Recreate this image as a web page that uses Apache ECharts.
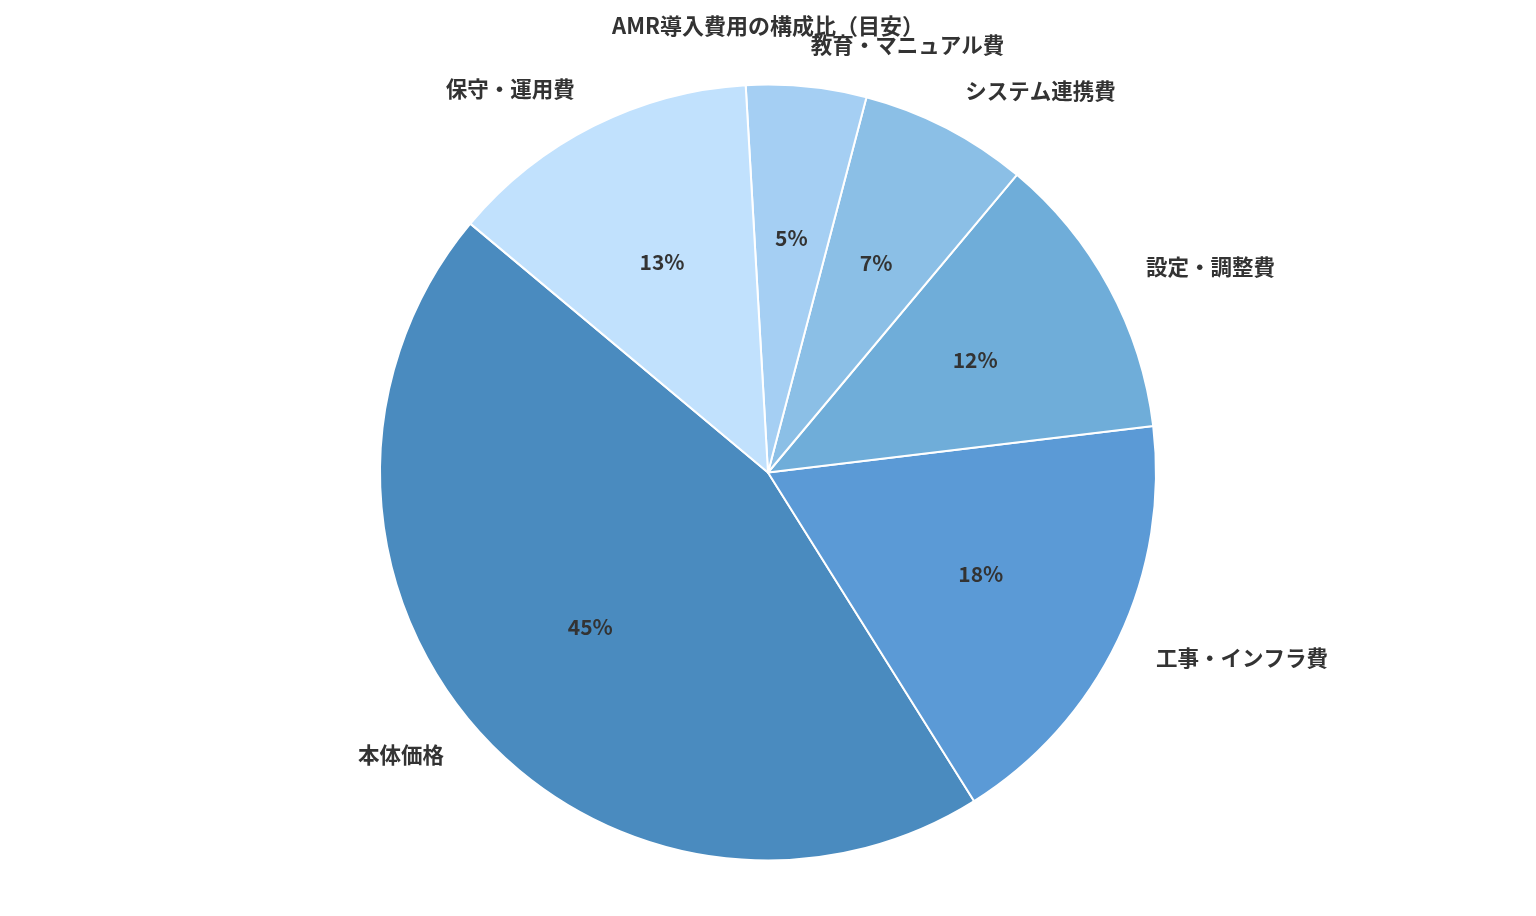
<!DOCTYPE html>
<html>
<head>
<meta charset="utf-8">
<script src="https://cdn.jsdelivr.net/npm/echarts@6/dist/echarts.min.js"></script>
<style>
html,body{margin:0;padding:0;background:#fff;}
#chart{width:1536px;height:916px;}
</style>
</head>
<body>
<div id="chart"></div>
<script>
const titleText = 'AMR導入費用の構成比（目安）';
const categories = ['本体価格', '工事・インフラ費', '設定・調整費', 'システム連携費', '教育・マニュアル費', '保守・運用費'];
const values = [45, 18, 12, 7, 5, 13];
const colors = ['#4a8bbf', '#5b9ad6', '#6fadd9', '#8bbfe6', '#a5cff3', '#c1e1fd'];

const FONT = '"Noto Sans CJK JP", "Noto Sans", sans-serif';
const R = 388;

const chart = echarts.init(document.getElementById('chart'), null, {renderer: 'canvas'});
const baseData = categories.map((name, i) => ({name, value: values[i], itemStyle: {color: colors[i]}}));
const pctData = categories.map((name, i) => ({name, value: values[i]}));

chart.setOption({
  backgroundColor: '#ffffff',
  animation: false,
  title: {
    text: titleText,
    left: 'center',
    top: 10,
    textStyle: {fontFamily: FONT, fontSize: 22, fontWeight: 'bold', color: '#333333'}
  },
  series: [
    {
      type: 'pie',
      center: [768, 472.5],
      radius: [0, R],
      startAngle: 140.1,
      clockwise: false,
      avoidLabelOverlap: false,
      itemStyle: {borderColor: '#ffffff', borderWidth: 2},
      label: {
        show: true,
        position: 'outside',
        formatter: '{b}',
        fontFamily: FONT,
        fontSize: 21.5,
        fontWeight: 'bold',
        color: '#333333',
        distanceToLabelLine: 0
      },
      labelLine: {show: false, length: 42, length2: 0},
      emphasis: {disabled: true},
      data: baseData
    },
    {
      type: 'pie',
      center: [768, 472.5],
      radius: [R * 0.2, R],
      startAngle: 140.1,
      clockwise: false,
      silent: true,
      avoidLabelOverlap: false,
      itemStyle: {color: 'rgba(0,0,0,0)', borderWidth: 0},
      label: {
        show: true,
        position: 'inside',
        formatter: '{c}%',
        fontFamily: FONT,
        fontSize: 21,
        fontWeight: 'bold',
        color: '#333333'
      },
      labelLine: {show: false},
      emphasis: {disabled: true},
      data: pctData
    }
  ]
});
</script>
</body>
</html>
